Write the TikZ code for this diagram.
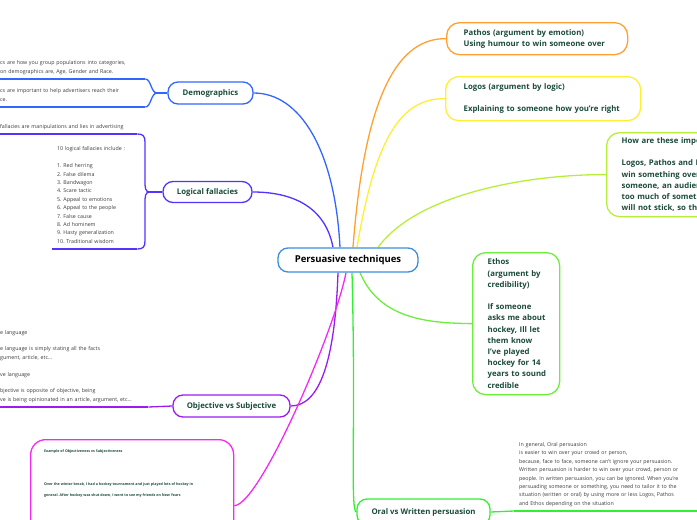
\documentclass[tikz,border=0pt]{standalone}
\usepackage{fontspec}
\setmainfont{Open Sans}
\usetikzlibrary{backgrounds}
\definecolor{tgreen}{HTML}{1B4B3C}
\definecolor{tgray}{HTML}{3A3A3A}
\definecolor{cenC}{HTML}{3A8FDC}
\definecolor{demoC}{HTML}{3366FF}
\definecolor{logC}{HTML}{5533FF}
\definecolor{objC}{HTML}{9B1BF5}
\definecolor{magC}{HTML}{F22BF2}
\definecolor{pathC}{HTML}{FFA030}
\definecolor{logoC}{HTML}{FFEE33}
\definecolor{howC}{HTML}{B8EE3A}
\definecolor{ethC}{HTML}{6CEE3A}
\definecolor{oralC}{HTML}{33EE33}
\frenchspacing
\begin{document}
\begin{tikzpicture}[x=1pt,y=-1pt,
  topic/.style={draw, line width=1.3pt, fill=white, rounded corners=10pt, font=\fontsize{7.8}{11.2}\selectfont\bfseries, text=tgreen, inner sep=0pt, align=center},
  bigbox/.style={draw, line width=1.3pt, fill=white, rounded corners=13pt, font=\fontsize{7.8}{11.2}\selectfont\bfseries, text=tgreen, align=left, inner ysep=0pt, anchor=north west},
  item/.style={font=\fontsize{5.3}{8.4}\selectfont, text=tgray, align=left, anchor=south west, inner ysep=3pt},
  conn/.style={line width=1.3pt},
  uline/.style={line width=1.6pt},
]
\useasboundingbox (0,0) rectangle (697,520);

% main topics
\node[topic, draw=cenC, minimum width=140pt, minimum height=24pt, text=black, font=\fontsize{9.5}{12}\selectfont\bfseries] (cen) at (348,260) {Persuasive techniques};
\node[topic, draw=demoC, minimum width=85pt, minimum height=22pt] (demo) at (210.5,93) {Demographics};
\node[topic, draw=logC, minimum width=89pt, minimum height=21pt] (logf) at (207.5,192) {Logical fallacies};
\node[topic, draw=objC, minimum width=117pt, minimum height=22pt] (obj) at (231.5,406) {Objective vs Subjective};
\node[topic, draw=oralC, minimum width=133pt, minimum height=26pt] (oral) at (423.5,512) {Oral vs Written persuasion};

\node[bigbox, draw=pathC, text width=147pt, inner xsep=17pt, minimum height=32pt] (pathos) at (446,22)
  {\mbox{Pathos (argument by emotion)}\\\mbox{Using humour to win someone over}};
\node[bigbox, draw=logoC, text width=159pt, inner xsep=18pt, minimum height=44pt] (logos) at (445,76)
  {\mbox{Logos (argument by logic)}\\[11.2pt]\mbox{Explaining to someone how you're right}};
\node[bigbox, draw=howC, text width=130pt, inner xsep=15pt, minimum height=84pt] (how) at (606,132)
  {\mbox{How are these impo}\\[11.2pt]\mbox{Logos, Pathos and E}\\\mbox{win something over}\\\mbox{someone, an audien}\\\mbox{too much of someth}\\\mbox{will not stick, so the}};
\node[bigbox, draw=ethC, text width=57pt, inner xsep=15pt, minimum height=142pt] (ethos) at (472,252)
  {\mbox{Ethos}\\\mbox{(argument by}\\\mbox{credibility)}\\[11.2pt]\mbox{If someone}\\\mbox{asks me about}\\\mbox{hockey, Ill let}\\\mbox{them know}\\\mbox{I've played}\\\mbox{hockey for 14}\\\mbox{years to sound}\\\mbox{credible}};

\node[draw=magC, line width=1.3pt, rounded corners=15pt, fill=white, minimum width=203pt, minimum height=132pt, anchor=north west, inner sep=0pt] (mag) at (30,439) {};
\node[font=\fontsize{3.6}{11}\selectfont\bfseries, text=tgreen, align=left, anchor=north west, inner sep=0pt] (magtxt) at (44,450)
  {Example of Objectiveness vs Subjectiveness\\[22pt]Over the winter break, I had a hockey tournament and just played lots of hockey in\\general. After hockey was shut down, I went to see my friends on New Years};

% sub items
\node[item, text width=145pt, inner xsep=0pt] (d1) at (0,79)
  {\mbox{cs are how you group populations into categories,}\\\mbox{on demographics are, Age, Gender and Race.}\strut};
\node[item, text width=145pt, inner xsep=0pt] (d2) at (0,107)
  {\mbox{cs are important to help advertisers reach their}\\\mbox{ce.}\strut};
\node[item, text width=137pt, inner xsep=0pt] (l1) at (0,134)
  {\mbox{fallacies are manipulations and lies in advertising}\strut};
\node[item, text width=75pt, inner xsep=5pt] (l2) at (52,249)
  {\mbox{10 logical fallacies include :}\\[8.4pt]1. Red herring\\2. False dilema\\3. Bandwagon\\4. Scare tactic\\5. Appeal to emotions\\6. Appeal to the people\\7. False cause\\8. Ad hominem\\9. Hasty generalization\\10. Traditional wisdom\strut};
\node[item, text width=148pt, inner xsep=0pt] (o1) at (0,407)
  {\mbox{e language}\\[8.4pt]\mbox{e language is simply stating all the facts}\\\mbox{gument, article, etc...}\\[8.4pt]\mbox{ve language}\\[8.4pt]\mbox{bjective is opposite of objective, being}\\\mbox{ve is being opinionated in an article, argument, etc...}\strut};
\node[item, text width=190pt, inner xsep=5pt] (or1) at (514,511)
  {\mbox{In general, Oral persuasion}\\\mbox{is easier to win over your crowd or person,}\\\mbox{because, face to face, someone can't ignore your persuasion.}\\\mbox{Written persuasion is harder to win over your crowd, person or}\\\mbox{people. In written persuasion, you can be ignored. When you're}\\\mbox{persuading someone or something, you need to tailor it to the}\\\mbox{situation (written or oral) by using more or less Logos, Pathos}\\\mbox{and Ethos depending on the situation}\strut};

\coordinate (ds) at (157,93);
\coordinate (ls) at (150,192);

\begin{pgfonlayer}{background}
% connectors from centre
\draw[conn, demoC] ([xshift=-8pt]cen.north) .. controls (335,150) and (300,93) .. (demo.east);
\draw[conn, logC] ([xshift=-15pt]cen.north) .. controls (325,205) and (290,192) .. (logf.east);
\draw[conn, objC] ([xshift=-10pt]cen.south) .. controls (335,360) and (320,406) .. (obj.east);
\draw[conn, magC] ([xshift=-2pt]cen.south) .. controls (335,330) and (260,505) .. (mag.east);
\draw[conn, pathC] ([xshift=5pt]cen.north) .. controls (365,90) and (400,38) .. (pathos.west);
\draw[conn, logoC] ([xshift=9pt]cen.north) .. controls (375,140) and (400,98) .. (logos.west);
\draw[conn, howC] ([xshift=30pt]cen.north) .. controls (420,190) and (540,174) .. (how.west);
\draw[conn, ethC] ([xshift=12pt]cen.south) .. controls (380,320) and (430,323) .. (ethos.west);
\draw[conn, oralC] ([xshift=4pt]cen.south) .. controls (356,420) and (350,512) .. (oral.west);
% sub-branches
\draw[conn, demoC] (demo.west) -- (ds);
\draw[conn, demoC] (ds) .. controls (151,93) and (151,79) .. (d1.south east);
\draw[conn, demoC] (ds) .. controls (151,93) and (151,107) .. (d2.south east);
\draw[conn, logC] (logf.west) -- (ls);
\draw[conn, logC] (ls) .. controls (145,192) and (145,188) .. (145,180) -- (145,142) .. controls (145,136) and (143,134) .. (l1.south east);
\draw[conn, logC] (ls) .. controls (145,192) and (145,196) .. (145,204) -- (145,241) .. controls (145,247) and (143,249) .. (l2.south east);
\draw[conn, objC] (obj.west) -- (o1.south east);
\draw[conn, oralC] (oral.east) -- (or1.south west);
\end{pgfonlayer}

% underlines
\draw[uline, demoC] (d1.south west) -- (d1.south east);
\draw[uline, demoC] (d2.south west) -- (d2.south east);
\draw[uline, logC] (l1.south west) -- (l1.south east);
\draw[uline, logC] (l2.south west) -- (l2.south east);
\draw[uline, objC] (o1.south west) -- (o1.south east);
\draw[uline, oralC] (or1.south west) -- (or1.south east);
\end{tikzpicture}
\end{document}
